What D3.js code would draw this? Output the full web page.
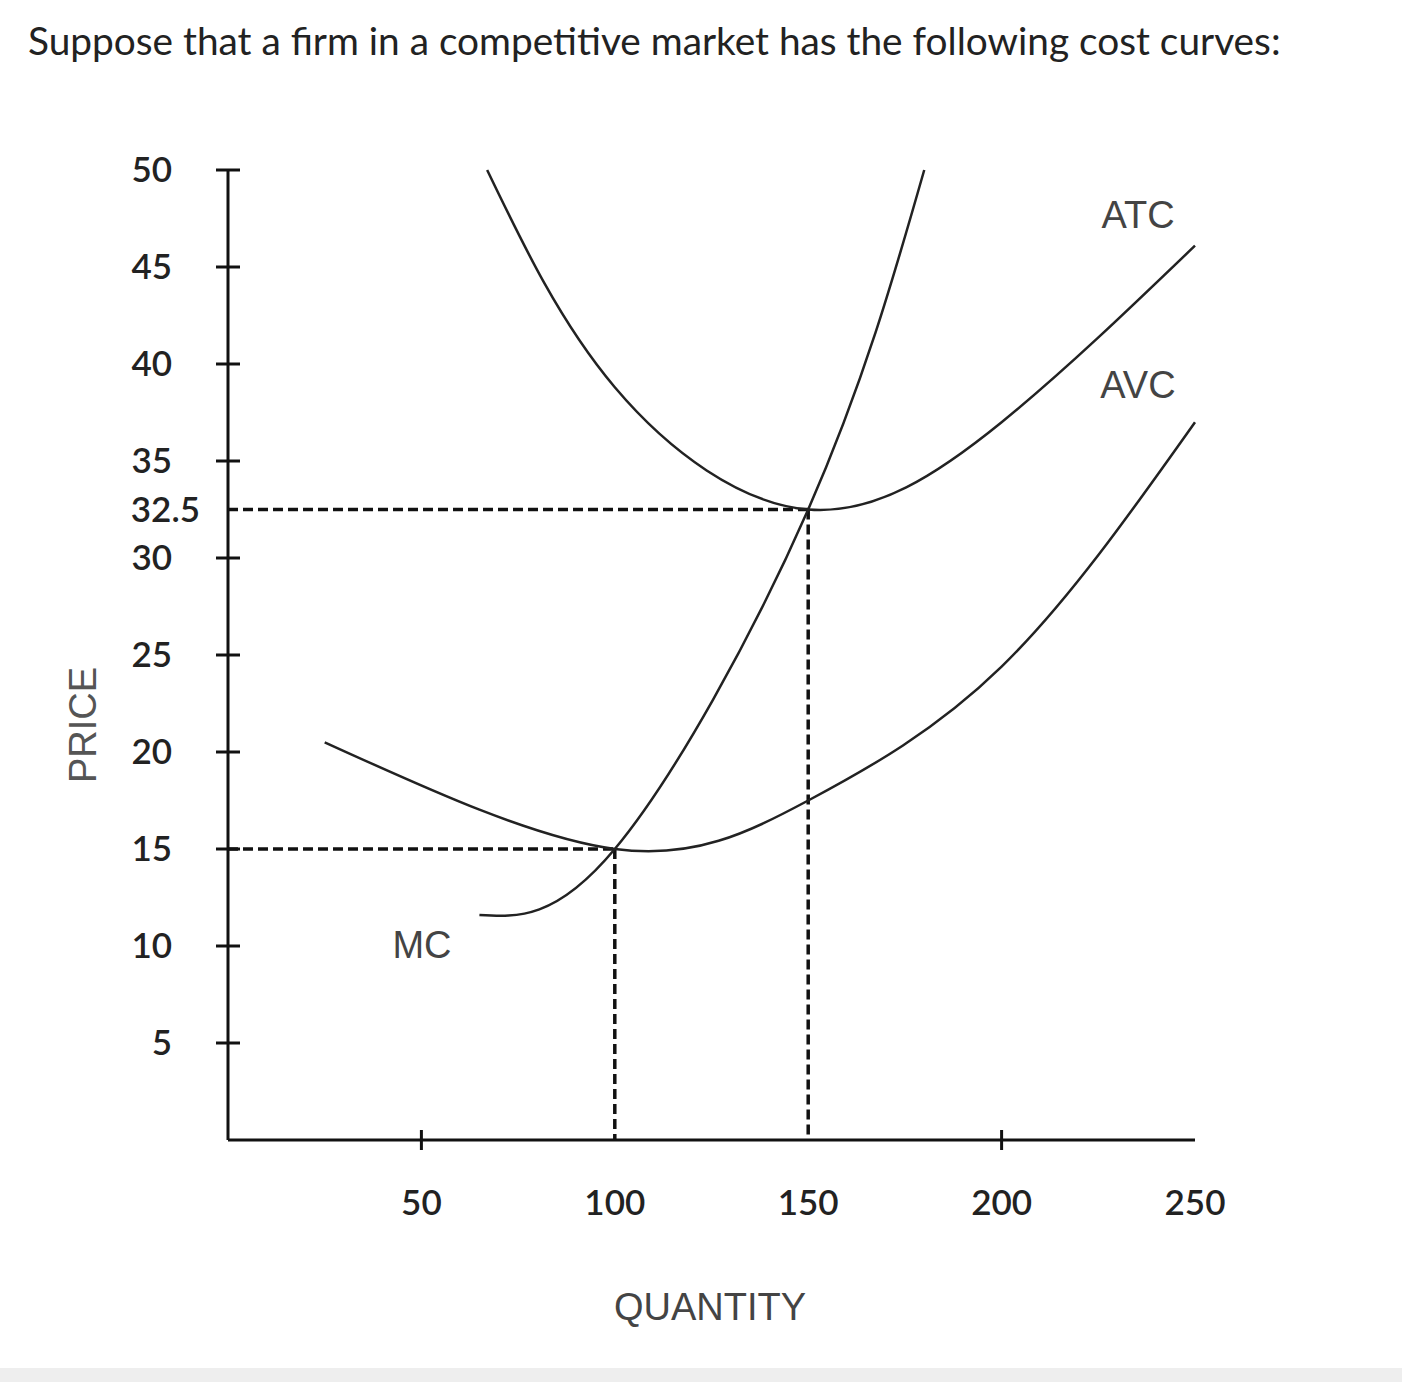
<!DOCTYPE html>
<html><head><meta charset="utf-8">
<script src="https://cdn.jsdelivr.net/npm/d3@7"></script>
<style>body{margin:0;background:#fff;}</style>
</head><body>
<script>
const title = "Suppose that a firm in a competitive market has the following cost curves:";
const yTicks = [5,10,15,20,25,30,32.5,35,40,45,50];
const xTicks = [50,100,150,200,250];
const mcQ = [65,100,150,180];
const mcP = [11.6,15,32.5,50];
const atcQ = [67,100,150,200,250];
const atcP = [50,38.8,32.5,37,46.1];
const avcQ = [25,100,150,200,250];
const avcP = [20.5,15,17.5,24.4,37];
const guides = [[100,15],[150,32.5]];

const W=1402,H=1382;
const svg=d3.select("body").append("svg").attr("width",W).attr("height",H);
svg.append("rect").attr("y",1368).attr("width",W).attr("height",14).attr("fill","#eeeeee");
svg.append("text").attr("x",28).attr("y",55).attr("font-family","Lato").attr("font-size",38.8).attr("fill","#222").text(title);

const x=d3.scaleLinear().domain([0,250]).range([228,1195]);
const y=d3.scaleLinear().domain([0,50]).range([1140,170]);

svg.append("line").attr("x1",x(0)).attr("x2",x(0)).attr("y1",y(50)).attr("y2",y(0)).attr("stroke","#111").attr("stroke-width",3);
svg.append("line").attr("x1",x(0)).attr("x2",x(250)).attr("y1",y(0)).attr("y2",y(0)).attr("stroke","#111").attr("stroke-width",3);
const yt=yTicks.filter(d=>d!==32.5);
svg.selectAll(".yt").data(yt).join("line").attr("x1",x(0)-12).attr("x2",x(0)+12).attr("y1",d=>y(d)).attr("y2",d=>y(d)).attr("stroke","#111").attr("stroke-width",3);
svg.selectAll(".xt").data([50,200]).join("line").attr("x1",d=>x(d)).attr("x2",d=>x(d)).attr("y1",y(0)-10).attr("y2",y(0)+10).attr("stroke","#111").attr("stroke-width",3);
svg.selectAll(".yl").data(yTicks).join("text").attr("x",d=>d===32.5?200:172).attr("y",d=>y(d)).attr("dy","0.35em").attr("text-anchor","end").attr("font-family","Lato").attr("font-weight",600).attr("font-size",35).attr("fill","#222").text(d=>d);
svg.selectAll(".xl").data(xTicks).join("text").attr("x",d=>x(d)).attr("y",1215).attr("text-anchor","middle").attr("font-family","Lato").attr("font-weight",600).attr("font-size",35).attr("fill","#222").text(d=>d);

guides.forEach(([q,p])=>{
  svg.append("line").attr("x1",x(0)).attr("x2",x(q)).attr("y1",y(p)).attr("y2",y(p)).attr("stroke","#111").attr("stroke-width",3.5).attr("stroke-dasharray","10,5");
  svg.append("line").attr("x1",x(q)).attr("x2",x(q)).attr("y1",y(p)).attr("y2",y(0)).attr("stroke","#111").attr("stroke-width",3.5).attr("stroke-dasharray","10,5");
});

const line=d3.line().x(d=>x(d[0])).y(d=>y(d[1])).curve(d3.curveNatural);
[[mcQ,mcP],[atcQ,atcP],[avcQ,avcP]].forEach(([q,p])=>{
  svg.append("path").attr("d",line(q.map((v,i)=>[v,p[i]]))).attr("fill","none").attr("stroke","#222").attr("stroke-width",2.5);
});

const lab=(t,xx,yy,size)=>svg.append("text").attr("x",xx).attr("y",yy).attr("text-anchor","middle").attr("font-family","Liberation Sans").attr("font-size",size).attr("fill","#444").text(t);
lab("ATC",1138,228,38);
lab("AVC",1138,398,38);
lab("MC",422,958,38);
lab("QUANTITY",710,1320,38);
svg.append("text").attr("transform","translate(96,725) rotate(-90)").attr("text-anchor","middle").attr("font-family","Liberation Sans").attr("font-size",38).attr("fill","#555").text("PRICE");
</script>
</body></html>
